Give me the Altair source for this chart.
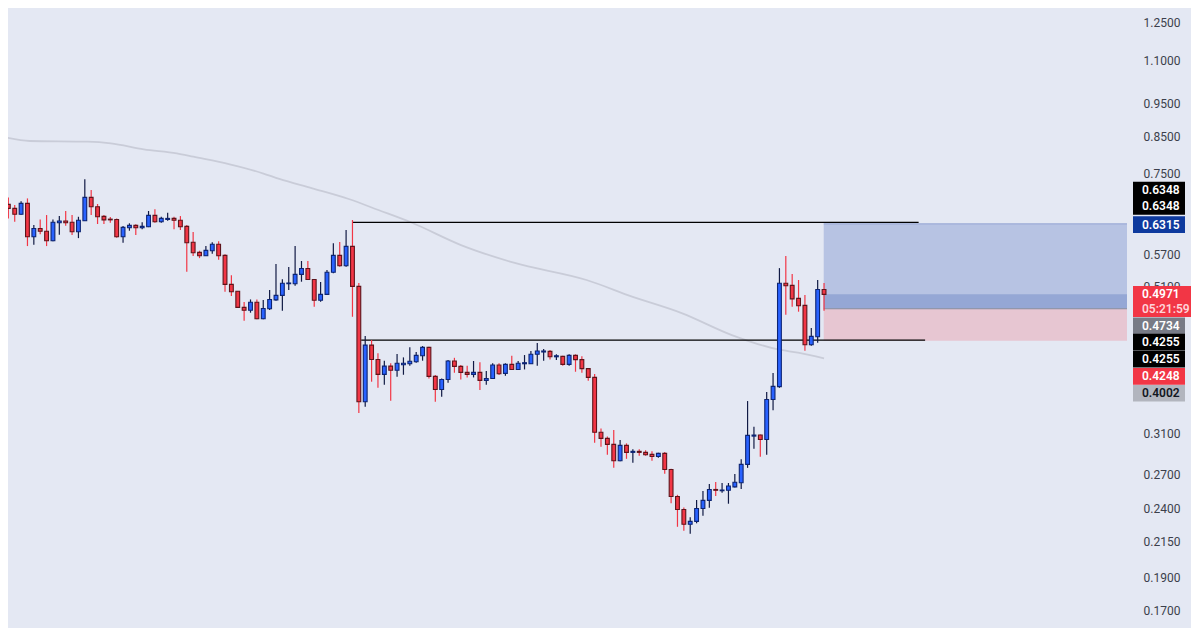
import altair as alt
import pandas as pd

# ---------------- data ----------------
OPEN = [0.6747, 0.6654, 0.6522, 0.6770, 0.6043, 0.6217, 0.6157, 0.5964, 0.6339, 0.6376,
        0.6348, 0.6148, 0.6382, 0.6908, 0.6691, 0.6477, 0.6416, 0.6410, 0.6043, 0.6230,
        0.6283, 0.6230, 0.6252, 0.6499, 0.6361, 0.6410, 0.6432, 0.6391, 0.6261, 0.5931,
        0.5733, 0.5667, 0.5764, 0.5891, 0.5674, 0.5143, 0.5023, 0.4756, 0.4709, 0.4839,
        0.4575, 0.4733, 0.4879, 0.4954, 0.5154, 0.5154, 0.5320, 0.5428, 0.5229, 0.4872,
        0.4971, 0.5357, 0.5674, 0.5477, 0.5850, 0.5107, 0.3453, 0.4185, 0.3986, 0.3789,
        0.3897, 0.3842, 0.3915, 0.3928, 0.3955, 0.4036, 0.4152, 0.3763, 0.3600, 0.3724,
        0.3965, 0.3893, 0.3815, 0.3789, 0.3815, 0.3713, 0.3737, 0.3911, 0.3802, 0.3920,
        0.3853, 0.3928, 0.3928, 0.4056, 0.4088, 0.4097, 0.4022, 0.4028, 0.3920, 0.4042,
        0.3984, 0.3864, 0.3750, 0.3113, 0.3049, 0.2988, 0.2827, 0.2978, 0.2908, 0.2918,
        0.2908, 0.2888, 0.2868, 0.2898, 0.2744, 0.2504, 0.2396, 0.2278, 0.2301, 0.2404,
        0.2471, 0.2564, 0.2553, 0.2557, 0.2587, 0.2623, 0.2792, 0.3073, 0.3084, 0.3038,
        0.3480, 0.3635, 0.5161, 0.5125, 0.4903, 0.4789, 0.4190, 0.4304, 0.5054]
HIGH = [0.6908, 0.6731, 0.6817, 0.6884, 0.6289, 0.6410, 0.6506, 0.6410, 0.6484, 0.6596,
        0.6506, 0.6468, 0.7349, 0.7083, 0.6754, 0.6506, 0.6461, 0.6432, 0.6267, 0.6326,
        0.6304, 0.6348, 0.6596, 0.6638, 0.6468, 0.6558, 0.6468, 0.6484, 0.6289, 0.6142,
        0.5764, 0.5856, 0.5931, 0.5951, 0.5694, 0.5302, 0.5030, 0.4843, 0.4886, 0.4886,
        0.4877, 0.5045, 0.5510, 0.5234, 0.5453, 0.5856, 0.5567, 0.5567, 0.5234, 0.5184,
        0.5399, 0.5911, 0.5937, 0.6184, 0.6397, 0.5166, 0.4315, 0.4258, 0.4069, 0.3969,
        0.3934, 0.4060, 0.4014, 0.4156, 0.4088, 0.4171, 0.4161, 0.3780, 0.3737, 0.3980,
        0.4008, 0.3911, 0.3901, 0.3965, 0.3947, 0.3832, 0.3934, 0.3934, 0.3934, 0.4036,
        0.3965, 0.4046, 0.4102, 0.4214, 0.4128, 0.4116, 0.4056, 0.4036, 0.4056, 0.4056,
        0.4029, 0.3868, 0.3793, 0.3154, 0.3070, 0.3137, 0.3032, 0.2998, 0.2940, 0.2940,
        0.2928, 0.2918, 0.2904, 0.2911, 0.2750, 0.2518, 0.2412, 0.2334, 0.2474, 0.2550,
        0.2612, 0.2629, 0.2621, 0.2621, 0.2702, 0.2842, 0.3461, 0.3172, 0.3090, 0.3569,
        0.3806, 0.5434, 0.5661, 0.5326, 0.5219, 0.4959, 0.4433, 0.5219, 0.5166]
LOW = [0.6432, 0.6361, 0.6515, 0.5856, 0.5882, 0.6094, 0.5856, 0.5955, 0.6085, 0.6274,
       0.6079, 0.6016, 0.6375, 0.6506, 0.6311, 0.6311, 0.6339, 0.6022, 0.5923, 0.6169,
       0.6079, 0.6202, 0.6245, 0.6339, 0.6339, 0.6382, 0.6202, 0.6184, 0.5368, 0.5661,
       0.5621, 0.5660, 0.5706, 0.5588, 0.5016, 0.4942, 0.4750, 0.4546, 0.4671, 0.4570,
       0.4570, 0.4716, 0.4865, 0.4703, 0.5047, 0.5118, 0.5189, 0.5220, 0.4766, 0.4848,
       0.4964, 0.5339, 0.5458, 0.5458, 0.4607, 0.3323, 0.3394, 0.3696, 0.3620, 0.3658,
       0.3465, 0.3758, 0.3784, 0.3901, 0.3942, 0.3969, 0.3737, 0.3453, 0.3511, 0.3683,
       0.3810, 0.3724, 0.3750, 0.3750, 0.3593, 0.3658, 0.3733, 0.3780, 0.3771, 0.3848,
       0.3848, 0.3853, 0.3924, 0.3901, 0.3969, 0.3986, 0.3978, 0.3901, 0.3901, 0.3823,
       0.3810, 0.3708, 0.3005, 0.2963, 0.2884, 0.2759, 0.2822, 0.2845, 0.2807, 0.2874,
       0.2874, 0.2827, 0.2855, 0.2704, 0.2446, 0.2259, 0.2229, 0.2206, 0.2286, 0.2345,
       0.2409, 0.2507, 0.2536, 0.2443, 0.2582, 0.2569, 0.2759, 0.2943, 0.2865, 0.2884,
       0.3354, 0.3620, 0.4639, 0.4766, 0.4687, 0.4106, 0.4175, 0.4219, 0.4703]
CLOSE = [0.6654, 0.6522, 0.6770, 0.6043, 0.6217, 0.6157, 0.5964, 0.6348, 0.6376, 0.6339,
         0.6148, 0.6391, 0.6908, 0.6691, 0.6468, 0.6401, 0.6401, 0.6043, 0.6239, 0.6283,
         0.6230, 0.6261, 0.6499, 0.6361, 0.6432, 0.6432, 0.6391, 0.6252, 0.5923, 0.5725,
         0.5667, 0.5772, 0.5891, 0.5667, 0.5143, 0.5016, 0.4756, 0.4709, 0.4839, 0.4575,
         0.4739, 0.4886, 0.4954, 0.5161, 0.5166, 0.5320, 0.5428, 0.5229, 0.4872, 0.4971,
         0.5357, 0.5674, 0.5477, 0.5850, 0.5107, 0.3453, 0.4185, 0.3986, 0.3789, 0.3897,
         0.3842, 0.3934, 0.3934, 0.3961, 0.4042, 0.4152, 0.3763, 0.3600, 0.3724, 0.3965,
         0.3893, 0.3815, 0.3789, 0.3815, 0.3713, 0.3737, 0.3911, 0.3797, 0.3920, 0.3853,
         0.3934, 0.3942, 0.4056, 0.4102, 0.4102, 0.4022, 0.4036, 0.3920, 0.4042, 0.3983,
         0.3864, 0.3750, 0.3113, 0.3049, 0.2988, 0.2827, 0.2978, 0.2908, 0.2918, 0.2908,
         0.2884, 0.2868, 0.2898, 0.2744, 0.2504, 0.2396, 0.2278, 0.2301, 0.2404, 0.2471,
         0.2564, 0.2557, 0.2559, 0.2594, 0.2627, 0.2792, 0.3081, 0.3084, 0.3038, 0.3480,
         0.3638, 0.5161, 0.5118, 0.4896, 0.4782, 0.4190, 0.4310, 0.5054, 0.4971]

# moving average (light grey curve), read at a few bar positions
MA_BAR = [-0.51, 3.37, 12.44, 16.08, 21.26, 26.44, 29.04, 34.74, 39.92, 42.52, 47.70, 53.41,
          58.07, 63.25, 71.03, 79.32, 90.73, 97.98, 105.76, 113.53, 120.80, 123.91, 128.0]
MA_VAL = [0.8470, 0.8365, 0.8345, 0.8299, 0.8132, 0.8023, 0.7931, 0.7729, 0.7496, 0.7353,
          0.7124, 0.6870, 0.6618, 0.6343, 0.5876, 0.5534, 0.5219, 0.4930, 0.4661, 0.4330,
          0.4123, 0.4078, 0.4002]

# horizontal drawn levels
LEVEL_PRICE = [0.6348, 0.4255]
LEVEL_FROM = [54.08, 55.37]
LEVEL_TO = [142.84, 143.86]

# long-position tool
POS_FROM = 127.95
POS_TARGET = 0.6315
POS_ENTRY = 0.4734
POS_STOP = 0.4248
LAST_PRICE = 0.4971
COUNTDOWN = "05:21:59"

AXIS_TICKS = [1.25, 1.10, 0.95, 0.85, 0.75, 0.57, 0.51, 0.31, 0.27, 0.24, 0.215, 0.19, 0.17]

# price tags on the scale: value, box colour, text colour
TAG_PRICE = [0.6348, 0.6348, 0.6315, 0.4734, 0.4255, 0.4255, 0.4248, 0.4002]
TAG_FILL = ["#000000", "#000000", "#0E3A9E", "#787B86", "#000000", "#000000", "#F23645", "#B2B5BE"]
TAG_TEXT = ["#FFFFFF", "#FFFFFF", "#FFFFFF", "#FFFFFF", "#FFFFFF", "#FFFFFF", "#FFFFFF", "#131722"]
# layout: vertical stacking shift of each tag (px)
TAG_SHIFT = [-32.3, -15.9, 0.7, 17.0, 2.0, 18.9, 35.6, 35.0]

# ---------------- styling ----------------
BG = "#E4E8F3"
FONT = "Roboto"
W, H = 1124, 620
X_DOM = [0.731, 175.54]
Y_DOM = [0.16024, 1.3135]

xs = alt.Scale(domain=X_DOM, nice=False, zero=False)
ys = alt.Scale(type="log", domain=Y_DOM, nice=False, zero=False)
yaxis = alt.Axis(orient="right", values=AXIS_TICKS, format=".4f", title=None,
                 domain=False, ticks=False, grid=False, labelPadding=11,
                 labelAlign="left", labelBaseline="middle", labelFont=FONT,
                 labelFontSize=12, labelColor="#3B3F4B", labelOverlap=False,
                 labelFlush=False, zindex=0)

candles = pd.DataFrame({"i": list(range(len(OPEN))), "open": OPEN, "high": HIGH,
                        "low": LOW, "close": CLOSE})
ma = pd.DataFrame({"i": MA_BAR, "v": MA_VAL})
levels = pd.DataFrame({"p": LEVEL_PRICE, "a": LEVEL_FROM, "b": LEVEL_TO})

X = lambda f: alt.X(f, scale=xs, axis=None)
Y = lambda f: alt.Y(f, scale=ys, axis=yaxis)

layers = []
layers.append(alt.Chart(ma).mark_line(color="#C9CCD8", strokeWidth=1.8, interpolate="monotone").encode(
    x=X("i:Q"), y=Y("v:Q")))

# position tool zones (each with its own fixed colour)
for lo, hi, col in [(POS_ENTRY, POS_TARGET, "#B7C3E3"), (POS_ENTRY, LAST_PRICE, "#95A7D5"),
                    (POS_STOP, POS_ENTRY, "#E7C6D2")]:
    d = pd.DataFrame({"a": [POS_FROM], "b": [X_DOM[1]], "lo": [lo], "hi": [hi]})
    layers.append(alt.Chart(d).mark_rect(color=col).encode(
        x=X("a:Q"), x2="b:Q", y=Y("lo:Q"), y2="hi:Q"))
for p, col in [(POS_TARGET, "#9DACD7"), (POS_ENTRY, "#868B9E")]:
    d = pd.DataFrame({"a": [POS_FROM], "b": [X_DOM[1]], "p": [p]})
    layers.append(alt.Chart(d).mark_rule(color=col, strokeWidth=1.2).encode(
        x=X("a:Q"), x2="b:Q", y=Y("p:Q")))

layers.append(alt.Chart(levels).mark_rule(color="#000000", strokeWidth=1.3).encode(
    x=X("a:Q"), x2="b:Q", y=Y("p:Q")))

base = alt.Chart(candles).transform_calculate(
    dir="datum.close >= datum.open ? 'up' : 'down'")
layers.append(base.mark_rule(strokeWidth=1.2).encode(
    x=X("i:Q"), y=Y("low:Q"), y2="high:Q",
    color=alt.Color("dir:N", scale=alt.Scale(domain=["up", "down"], range=["#111A44", "#F23645"]),
                    legend=None)))
layers.append(base.mark_bar(size=3.8, strokeWidth=1.1).encode(
    x=X("i:Q"), y=Y("open:Q"), y2="close:Q",
    fill=alt.Fill("dir:N", scale=alt.Scale(domain=["up", "down"], range=["#2962FF", "#F23645"]),
                  legend=None),
    stroke=alt.Stroke("dir:N", scale=alt.Scale(domain=["up", "down"], range=["#0D2472", "#5E141B"]),
                      legend=None)))

# price tags on the right scale
TX0, TX1, TXT = 1125, 1177, 1134
for p, fc, tc, sh in zip(TAG_PRICE, TAG_FILL, TAG_TEXT, TAG_SHIFT):
    d = pd.DataFrame({"p": [p], "t": [f"{p:.4f}"]})
    layers.append(alt.Chart(d).mark_rule(strokeWidth=16.7, color=fc, yOffset=sh).encode(
        x=alt.value(TX0), x2=alt.value(TX1), y=Y("p:Q")))
    layers.append(alt.Chart(d).mark_text(align="left", baseline="middle", font=FONT, fontSize=12,
                                         fontWeight=600, color=tc, yOffset=sh).encode(
        x=alt.value(TXT), y=Y("p:Q"), text="t:N"))

cur = pd.DataFrame({"p": [LAST_PRICE], "t": [f"{LAST_PRICE:.4f}"], "c": [COUNTDOWN]})
layers.append(alt.Chart(cur).mark_rule(strokeWidth=31, color="#F23645", yOffset=7.2).encode(
    x=alt.value(TX0), x2=alt.value(1190), y=Y("p:Q")))
layers.append(alt.Chart(cur).mark_text(align="left", baseline="middle", font=FONT, fontSize=12,
                                       fontWeight=600, color="#FFFFFF", yOffset=0).encode(
    x=alt.value(TXT), y=Y("p:Q"), text="t:N"))
layers.append(alt.Chart(cur).mark_text(align="left", baseline="middle", font=FONT, fontSize=12,
                                       fontWeight=600, color="#FFD3D8", yOffset=15).encode(
    x=alt.value(TXT), y=Y("p:Q"), text="c:N"))

chart = alt.layer(*layers).properties(
    width=W, height=H,
    autosize=alt.AutoSizeParams(type="none"),
    padding={"left": 0, "top": 0, "right": 59, "bottom": 0},
    background=BG,
).configure_view(stroke=None, fill=BG)

chart.save("out.html", embed_options={"renderer": "svg", "actions": False})
